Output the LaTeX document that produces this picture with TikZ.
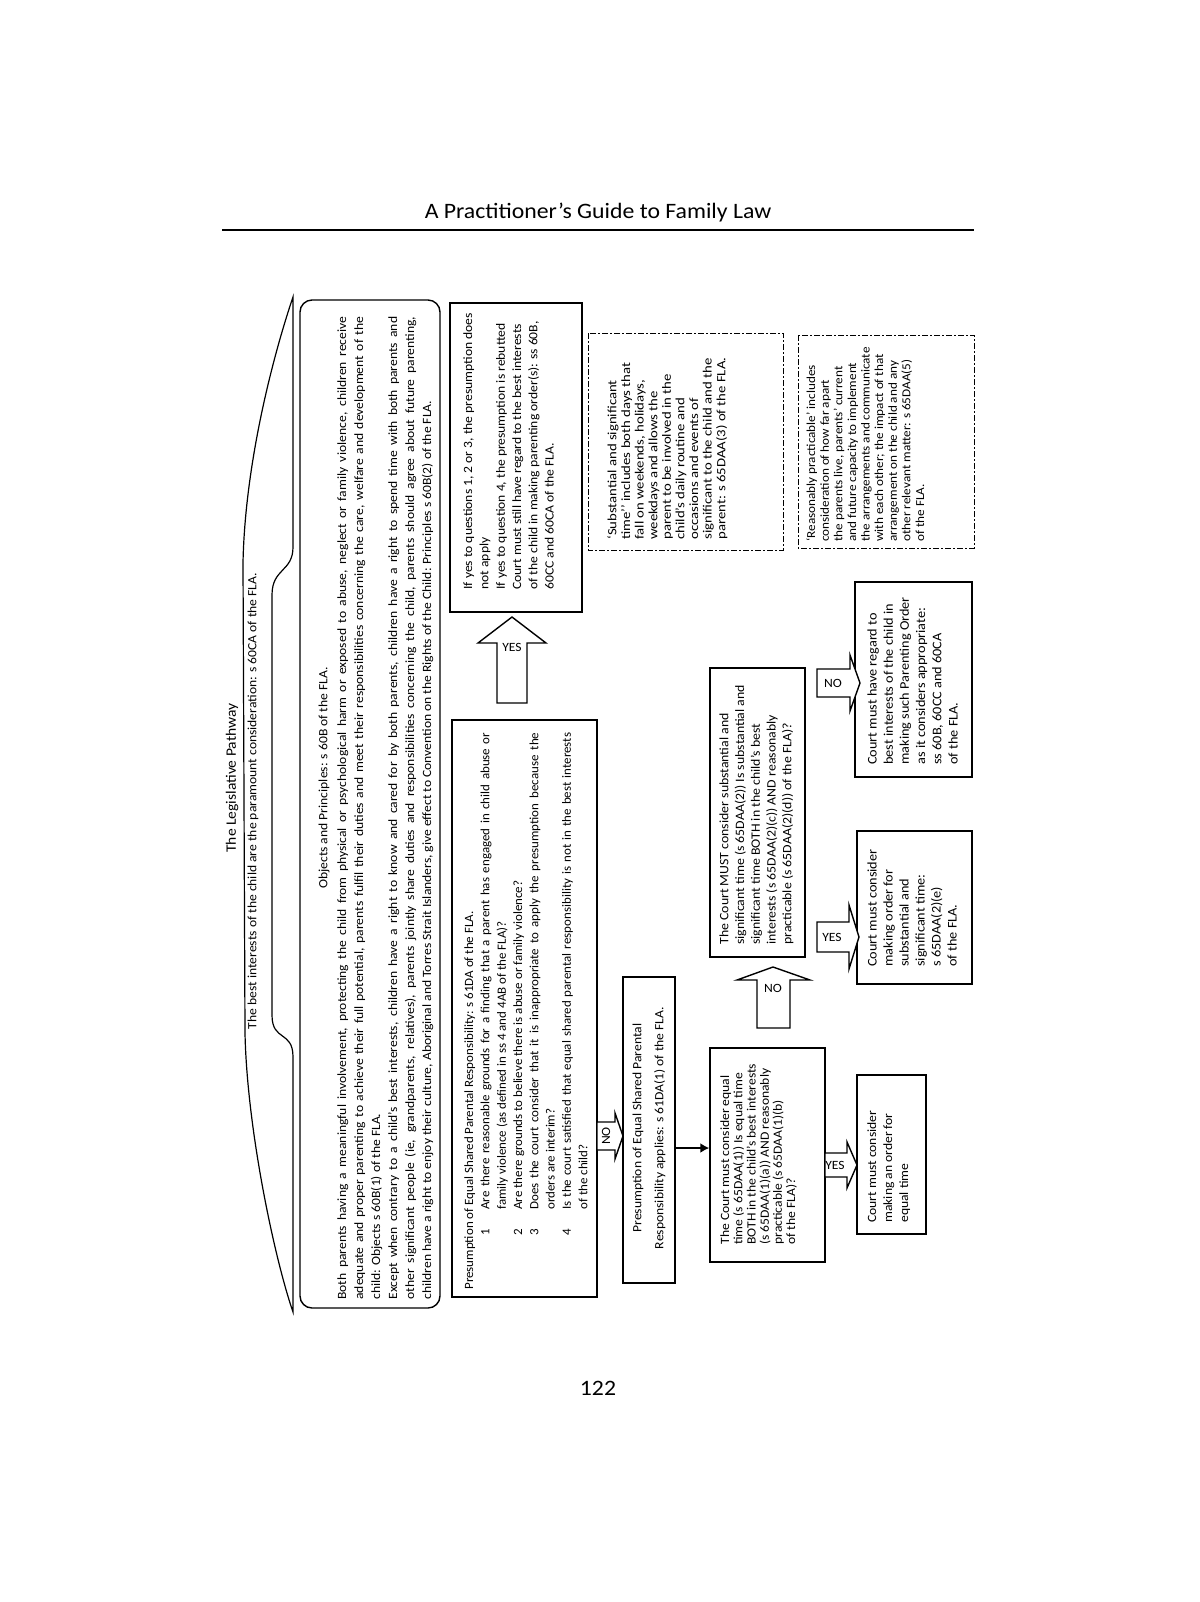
\documentclass[tikz,border=0pt]{standalone}
\usepackage{fontspec}
\setmainfont{Carlito}[FakeStretch=1.08]
\newfontfamily\presfont{Carlito}[FakeStretch=1.03]
\newfontfamily\widefont{Carlito}[FakeStretch=1.17]
\usetikzlibrary{arrows.meta}
\tikzset{
  box/.style={draw, line width=0.7pt, rotate=90, inner sep=0pt},
  note/.style={box, line width=0.5pt, dash pattern=on 3pt off 1.2pt on 0.6pt off 1.2pt},
  txt/.style={rotate=90, anchor=north west, inner sep=0pt, align=left},
  blockarrow/.style={draw, line width=0.7pt, fill=white},
  arrlabel/.style={inner sep=0pt, font=\fontsize{6.3}{7}\selectfont},
}
\begin{document}
\begin{tikzpicture}[x=0.5pt,y=-0.5pt]
\fill[white] (0,0) rectangle (1200,1602);
\useasboundingbox (0,0) rectangle (1200,1602);
% page header and number
\node[font=\fontsize{11}{13}\selectfont] (header) at (598,213) {A Practitioner’s Guide to Family Law};
\draw[line width=0.6pt] (222,230) -- (974,230);
\node[font=\fontsize{11}{13}\selectfont] (pageno) at (598,1388) {122};
% brace
\draw[line width=0.6pt] (293,297) -- (293,547) .. controls (293,572) and (272,568) .. (272,595)
  -- (272,1015) .. controls (272,1042) and (293,1030) .. (293,1057) -- (293,1312)
  .. controls (275,1260) and (247,1130) .. (245,1033) -- (243,563)
  .. controls (245,460) and (275,350) .. (293,297) -- cycle;
\node[rotate=90, font=\fontsize{7.2}{8}\selectfont] (title) at (232,778) {The Legislative Pathway};
\node[rotate=90, font=\fontsize{6.3}{7}\selectfont] (paramount) at (253,801) {The best interests of the child are the paramount consideration: s 60CA of the FLA.};
% objects and principles
\node[box, rounded corners=6pt, minimum width=504pt, minimum height=70pt] (objects) at (370,804) {};
\node[rotate=90, font=\fontsize{6.3}{7}\selectfont] (objtitle) at (324,778) {Objects and Principles: s 60B of the FLA.};
\node[txt, font=\fontsize{6.3}{8.5}\selectfont] (objtext) at (337,1300) {\makebox[491.5pt][s]{Both parents having a meaningful involvement, protecting the child from physical or psychological harm or exposed to abuse, neglect or family violence, children receive}\\
\makebox[491.5pt][s]{adequate and proper parenting to achieve their full potential, parents fulfil their duties and meet their responsibilities concerning the care, welfare and development of the}\\
child: Objects s 60B(1) of the FLA.\\
\makebox[491.5pt][s]{Except when contrary to a child’s best interests, children have a right to know and cared for by both parents, children have a right to spend time with both parents and}\\
\makebox[491.5pt][s]{other significant people (ie, grandparents, relatives), parents jointly share duties and responsibilities concerning the child, parents should agree about future parenting,}\\
children have a right to enjoy their culture, Aboriginal and Torres Strait Islanders, give effect to Convention on the Rights of the Child: Principles s 60B(2) of the FLA.};
% presumption questions
\node[box, minimum width=288.5pt, minimum height=72.5pt] (pres) at (524.5,1008.5) {};
\node[txt, font=\presfont\fontsize{6.3}{8.15}\selectfont] (prestext) at (464,1290) {Presumption of Equal Shared Parental Responsibility: s 61DA of the FLA.\\
\hspace*{27pt}\makebox[13pt][l]{1}\makebox[238.5pt][s]{Are there reasonable grounds for a finding that a parent has engaged in child abuse or}\\
\hspace*{40pt}family violence (as defined in ss 4 and 4AB of the FLA)?\\
\hspace*{27pt}\makebox[13pt][l]{2}Are there grounds to believe there is abuse or family violence?\\
\hspace*{27pt}\makebox[13pt][l]{3}\makebox[238.5pt][s]{Does the court consider that it is inappropriate to apply the presumption because the}\\
\hspace*{40pt}orders are interim?\\
\hspace*{27pt}\makebox[13pt][l]{4}\makebox[238.5pt][s]{Is the court satisfied that equal shared parental responsibility is not in the best interests}\\
\hspace*{40pt}of the child?};
\node[box, minimum width=154.5pt, minimum height=66pt] (ifyes) at (516,457.5) {};
\node[txt, font=\fontsize{6.3}{8.15}\selectfont] (ifyestext) at (463,590) {If yes to questions 1, 2 or 3, the presumption does\\
not apply\\
If yes to question 4, the presumption is rebutted\\
Court must still have regard to the best interests\\
of the child in making parenting order(s): ss 60B,\\
60CC and 60CA of the FLA.};
% notes
\node[note, minimum width=108.5pt, minimum height=97.5pt] (substnote) at (685.5,441.5) {};
\node[txt, font=\widefont\fontsize{6.3}{6.8}\selectfont] (substnotetext) at (607,540) {‘Substantial and significant\\
time’’ includes both days that\\
fall on weekends, holidays,\\
weekdays and allows the\\
parent to be involved in the\\
child’s daily routine and\\
occasions and events of\\
significant to the child and the\\
parent: s 65DAA(3) of the FLA.};
\node[note, minimum width=106.5pt, minimum height=88pt] (practnote) at (886,441.5) {};
\node[txt, font=\fontsize{6.1}{6.8}\selectfont] (practnotetext) at (806,542) {‘Reasonably practicable’ includes\\
consideration of how far apart\\
the parents live, parents’ current\\
and future capacity to implement\\
the arrangements and communicate\\
with each other; the impact of that\\
arrangement on the child and any\\
other relevant matter: s 65DAA(5)\\
of the FLA.};
% presumption applies
\node[box, minimum width=153pt, minimum height=26pt] (applies) at (649,1130) {};
\node[rotate=90, align=center, inner sep=0pt, font=\fontsize{6.3}{11}\selectfont] (appliestext) at (649,1128) {Presumption of Equal Shared Parental\\
Responsibility applies: s 61DA(1) of the FLA.};
% equal time
\node[box, minimum width=107pt, minimum height=57.5pt] (eqtime) at (767.5,1155) {};
\node[txt, font=\fontsize{6.3}{6.6}\selectfont] (eqtimetext) at (720,1245) {The Court must consider equal\\
time (s 65DAA(1)) Is equal time\\
BOTH in the child’s best interests\\
(s 65DAA(1)(a)) AND reasonably\\
practicable (s 65DAA(1)(b)\\
of the FLA)?};
\node[box, minimum width=79.5pt, minimum height=34.5pt] (eqorder) at (891.5,1154.5) {};
\node[txt, font=\fontsize{6.3}{8}\selectfont] (eqordertext) at (867,1223) {Court must consider\\
making an order for\\
equal time};
% substantial and significant time
\node[box, minimum width=144.5pt, minimum height=47.5pt] (subst) at (757.5,812.5) {};
\node[txt, font=\fontsize{6.4}{7.9}\selectfont] (substtext) at (719,945) {The Court MUST consider substantial and\\
significant time (s 65DAA(2)) Is substantial and\\
significant time BOTH in the child’s best\\
interests (s 65DAA(2)(c)) AND reasonably\\
practicable (s 65DAA(2)(d)) of the FLA)?};
\node[box, minimum width=76.5pt, minimum height=57.5pt] (substorder) at (914.5,907.5) {};
\node[txt, font=\fontsize{6.6}{8}\selectfont] (substordertext) at (867,967) {Court must consider\\
making order for\\
substantial and\\
significant time:\\
s 65DAA(2)(e)\\
of the FLA.};
\node[box, minimum width=97.5pt, minimum height=58.5pt] (parorder) at (913.5,679.5) {};
\node[txt, font=\fontsize{6.6}{8.1}\selectfont] (parordertext) at (867,765) {Court must have regard to\\
best interests of the child in\\
making such Parenting Order\\
as it considers appropriate:\\
ss 60B, 60CC and 60CA\\
of the FLA.};
% block arrows
\draw[blockarrow] (497,703) -- (497,643) -- (478,643) -- (512,617) -- (546,643) -- (527,643) -- (527,703) -- cycle;
\node[arrlabel] (yesup) at (512,647) {YES};
\draw[blockarrow] (597,1122) -- (615,1122) -- (615,1113) -- (623,1136) -- (615,1159) -- (615,1150) -- (597,1150) -- cycle;
\node[arrlabel, rotate=90] (nopres) at (606,1136) {NO};
\draw[blockarrow] (757,1028) -- (757,980) -- (737,980) -- (773,967) -- (810,980) -- (790,980) -- (790,1028) -- cycle;
\node[arrlabel] (noup) at (773,988) {NO};
\draw[blockarrow] (825,1153) -- (847,1153) -- (847,1142) -- (857,1165) -- (847,1188) -- (847,1177) -- (825,1177) -- cycle;
\node[arrlabel] (yeseq) at (835,1165) {YES};
\draw[blockarrow] (817,922) -- (849,922) -- (849,905) -- (859,937) -- (849,969) -- (849,952) -- (817,952) -- cycle;
\node[arrlabel] (yessubst) at (832,937) {YES};
\draw[blockarrow] (817,669) -- (850,669) -- (850,655) -- (860,683) -- (850,711) -- (850,697) -- (817,697) -- cycle;
\node[arrlabel] (nopar) at (833,683) {NO};
% plain arrow
\draw[line width=1pt, -{Latex[length=4.5pt,width=5pt]}] (applies.south |- 0,1148) -- (eqtime.north |- 0,1148);
\end{tikzpicture}
\end{document}
